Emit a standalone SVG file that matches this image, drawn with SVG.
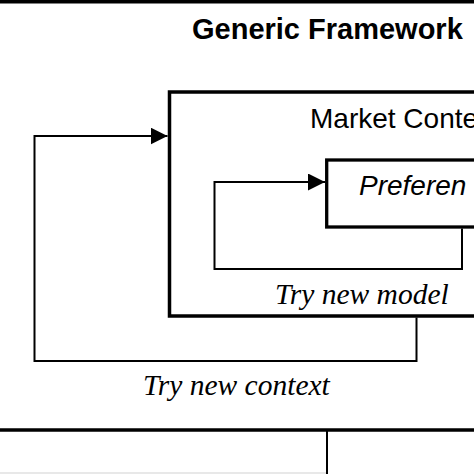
<svg xmlns="http://www.w3.org/2000/svg" width="474" height="474" viewBox="0 0 474 474">
  <style>
    .box { fill: #ffffff; stroke: #000000; }
    .conn { fill: none; stroke: #000000; stroke-width: 2; marker-end: url(#arrow); }
    .sans { font-family: "Liberation Sans", Arial, sans-serif; fill: #000000; }
    .serif { font-family: "Liberation Serif", "Times New Roman", serif; font-style: italic; fill: #000000; }
  </style>
  <defs>
    <marker id="arrow" markerUnits="userSpaceOnUse" markerWidth="17" markerHeight="17" refX="17" refY="8.5" orient="auto">
      <path d="M0,0 L17,8.5 L0,17 Z" fill="#000000"/>
    </marker>
  </defs>
  <rect width="474" height="474" fill="#ffffff"/>
  <rect x="0" y="0" width="474" height="3.5" fill="#000000"/>
  <text class="sans" x="192" y="39" font-size="29" font-weight="bold">Generic Framework</text>

  <g id="market-context">
    <rect class="box" x="169.5" y="92" width="330" height="224" stroke-width="3.5"/>
    <text class="sans" x="310" y="128" font-size="28">Market Conte</text>
  </g>

  <g id="preference">
    <rect class="box" x="326.7" y="160" width="200" height="67" stroke-width="3.3"/>
    <text class="sans" x="359" y="195" font-size="28" font-style="italic">Preferen</text>
  </g>

  <g id="connectors">
    <path class="conn" d="M416.5,317.5 V361 H34.5 V136 H167.5"/>
    <path class="conn" d="M462,228.5 V269 H214.5 V182 H325"/>
  </g>

  <g id="labels">
    <text class="serif" x="275" y="304" font-size="29.5">Try new model</text>
    <text class="serif" x="143" y="395" font-size="29.5">Try new context</text>
  </g>

  <g id="bottom-table">
    <line x1="0" y1="430" x2="474" y2="430" stroke="#000000" stroke-width="3.5"/>
    <line x1="327" y1="430" x2="327" y2="474" stroke="#000000" stroke-width="2"/>
    <line x1="0" y1="473" x2="326" y2="473" stroke="#e8e8e8" stroke-width="2"/>
  </g>
</svg>
